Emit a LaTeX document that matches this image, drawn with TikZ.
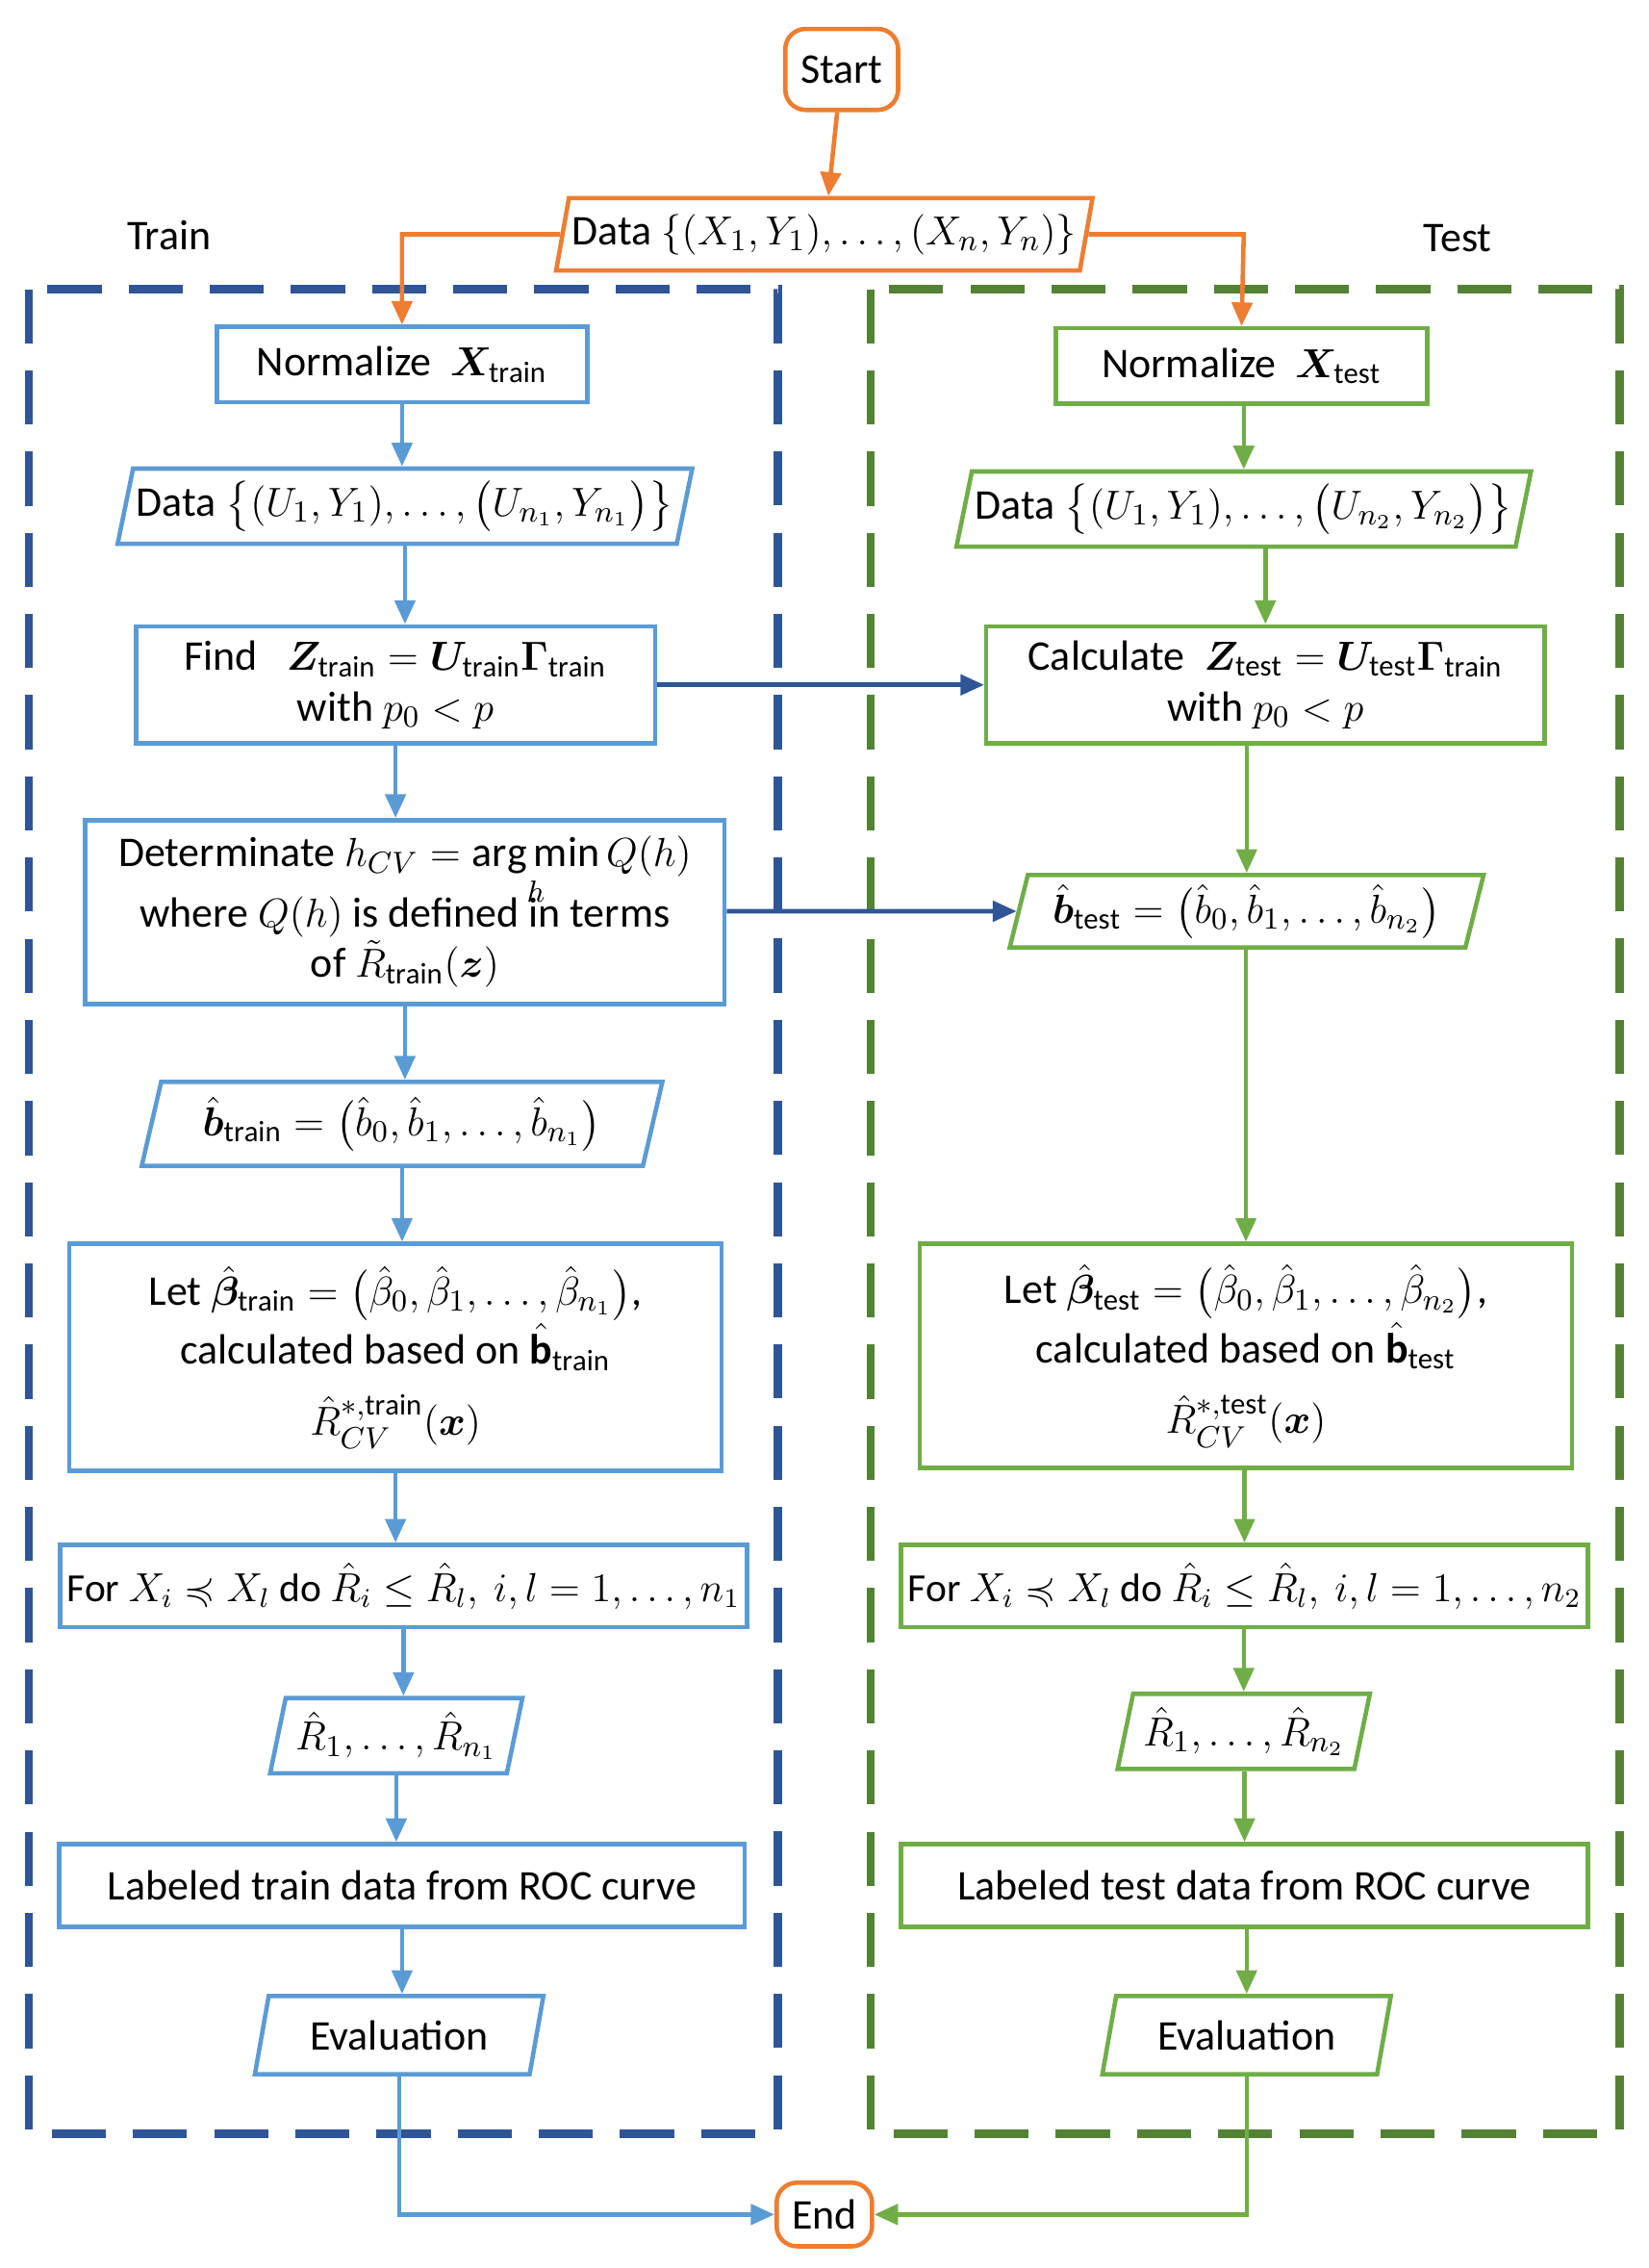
\documentclass[tikz,border=0pt]{standalone}
\usepackage{amsmath,amssymb,bm}
\usepackage{fontspec}
\setmainfont{Carlito}
\usetikzlibrary{shapes.geometric,arrows.meta}
\newlength\U \setlength\U{0.015026cm}
\definecolor{lb}{HTML}{5B9BD5}
\definecolor{db}{HTML}{2F5597}
\definecolor{lg}{HTML}{70AD47}
\definecolor{dg}{HTML}{548235}
\definecolor{og}{HTML}{ED7D31}
\begin{document}
\begin{tikzpicture}[x=0.015026cm,y=-0.015026cm,font=\fontsize{12.5}{15}\selectfont,
 box/.style={draw,line width=1.3pt,rectangle,align=center,inner sep=2pt},
 par/.style={draw,line width=1.3pt,trapezium,trapezium left angle=75,trapezium right angle=105,trapezium stretches=true,align=center,inner sep=1pt},
 bl/.style={draw=lb}, gr/.style={draw=lg}, orn/.style={draw=og},
 ar/.style={line width=1.3pt,-{Triangle[length=7pt,width=6pt]}}]
\useasboundingbox (0,0) rectangle (1140,1568);
\draw[db,line width=2.5pt,dash pattern=on 16pt off 8pt] (20,200) rectangle (538,1475);
\draw[dg,line width=2.5pt,dash pattern=on 16pt off 8pt] (602,200) rectangle (1120,1475);
\node at (117,163) {Train};
\node at (1008,165) {Test};
\node[box,orn,rounded corners=6pt,minimum width=78*\U,minimum height=56*\U] (start) at (582,48) {Start};
\node[par,orn,minimum width=365*\U,minimum height=50*\U] (data) at (570,162) {Data $\{(X_1,Y_1),\dots,(X_n,Y_n)\}$};
% left
\node[box,bl,minimum width=256*\U,minimum height=52*\U] (nl) at (278,252) {Normalize \ $\boldsymbol{X}_{\mathrm{train}}$};
\node[par,bl,minimum width=370*\U,minimum height=52*\U] (dl) at (280,350) {Data $\bigl\{(U_1,Y_1),\dots,\bigl(U_{n_1},Y_{n_1}\bigr)\bigr\}$};
\node[box,bl,minimum width=359*\U,minimum height=81*\U] (fl) at (273.5,473.5) {Find \ \ $\boldsymbol{Z}_{\mathrm{train}}=\boldsymbol{U}_{\mathrm{train}}\boldsymbol{\Gamma}_{\mathrm{train}}$\\ with $p_0<p$\hspace{5em}};
\node[box,bl,minimum width=442*\U,minimum height=127*\U] (hl) at (280,630.5) {Determinate $h_{CV}=\operatorname*{arg\,min}\limits_{h} Q(h)$\\[-4pt] where $Q(h)$ is defined in terms\\ of $\tilde R_{\mathrm{train}}(\boldsymbol z)$};
\node[par,bl,minimum width=360*\U,minimum height=58*\U] (bl) at (278,777) {$\hat{\boldsymbol b}_{\mathrm{train}}=\bigl(\hat b_0,\hat b_1,\dots,\hat b_{n_1}\bigr)$};
\node[box,bl,minimum width=451*\U,minimum height=157*\U] (ll) at (273.5,938.5) {Let $\hat{\boldsymbol\beta}_{\mathrm{train}}=\bigl(\hat\beta_0,\hat\beta_1,\dots,\hat\beta_{n_1}\bigr)$,\\ calculated based on $\hat{\mathbf b}_{\mathrm{train}}$\\[6pt] $\hat R^{*,\mathrm{train}}_{CV}(\boldsymbol x)$};
\node[box,bl,minimum width=474*\U,minimum height=57*\U,font=\fontsize{11.8}{14}\selectfont] (ol) at (279,1096.5) {For $X_i\preccurlyeq X_l$ do $\hat R_i\le\hat R_l,\ i,l=1,\dots,n_1$};
\node[par,bl,minimum width=175*\U,minimum height=52*\U] (rl) at (274,1200) {$\hat R_1,\dots,\hat R_{n_1}$};
\node[box,bl,minimum width=474*\U,minimum height=57*\U] (cl) at (278,1303.5) {Labeled train data from ROC curve};
\node[par,bl,minimum width=200*\U,minimum height=54*\U] (el) at (276,1407) {Evaluation};
% right
\node[box,gr,minimum width=257*\U,minimum height=52*\U] (nr) at (858.5,253) {Normalize \ $\boldsymbol{X}_{\mathrm{test}}$};
\node[par,gr,minimum width=370*\U,minimum height=52*\U] (dr) at (860,352) {Data $\bigl\{(U_1,Y_1),\dots,\bigl(U_{n_2},Y_{n_2}\bigr)\bigr\}$};
\node[box,gr,minimum width=386*\U,minimum height=81*\U] (fr) at (875,473.5) {Calculate \ $\boldsymbol{Z}_{\mathrm{test}}=\boldsymbol{U}_{\mathrm{test}}\boldsymbol{\Gamma}_{\mathrm{train}}$\\ with $p_0<p$};
\node[par,gr,minimum width=328*\U,minimum height=50*\U] (br) at (862,630) {$\hat{\boldsymbol b}_{\mathrm{test}}=\bigl(\hat b_0,\hat b_1,\dots,\hat b_{n_2}\bigr)$};
\node[box,gr,minimum width=451*\U,minimum height=155*\U] (lr) at (861.5,937.5) {Let $\hat{\boldsymbol\beta}_{\mathrm{test}}=\bigl(\hat\beta_0,\hat\beta_1,\dots,\hat\beta_{n_2}\bigr)$,\\ calculated based on $\hat{\mathbf b}_{\mathrm{test}}$\\[6pt] $\hat R^{*,\mathrm{test}}_{CV}(\boldsymbol x)$};
\node[box,gr,minimum width=475*\U,minimum height=57*\U,font=\fontsize{11.8}{14}\selectfont] (or) at (860.5,1096.5) {For $X_i\preccurlyeq X_l$ do $\hat R_i\le\hat R_l,\ i,l=1,\dots,n_2$};
\node[par,gr,minimum width=175*\U,minimum height=52*\U] (rr) at (860,1197) {$\hat R_1,\dots,\hat R_{n_2}$};
\node[box,gr,minimum width=475*\U,minimum height=57*\U] (cr) at (860.5,1303.5) {Labeled test data from ROC curve};
\node[par,gr,minimum width=200*\U,minimum height=54*\U] (er) at (862,1407) {Evaluation};
\node[box,orn,rounded corners=6pt,minimum width=66*\U,minimum height=44*\U] (end) at (570,1531) {End};
% connectors
\draw[ar,og] (start) -- (data);
\draw[ar,og] (data.west) -- (278,162) -- (nl.north);
\draw[ar,og] (data.east) -- (860,162) -- (nr.north);
\foreach \a/\b in {nl/dl,dl/fl,fl/hl,hl/bl,bl/ll,ll/ol,ol/rl,rl/cl,cl/el}
  \draw[ar,lb] (\a.south) -- (\b.north-|\a.south);
\foreach \a/\b in {nr/dr,dr/fr,fr/br,br/lr,lr/or,or/rr,rr/cr,cr/er}
  \draw[ar,lg] (\a.south-|\b.north) -- (\b.north);
\draw[ar,db] (fl.east) -- (fr.west);
\draw[ar,db] (hl.east|-br) -- (br.west);
\draw[ar,lb] (el.south) |- (end.west);
\draw[ar,lg] (er.south) |- (end.east);
\end{tikzpicture}
\end{document}
